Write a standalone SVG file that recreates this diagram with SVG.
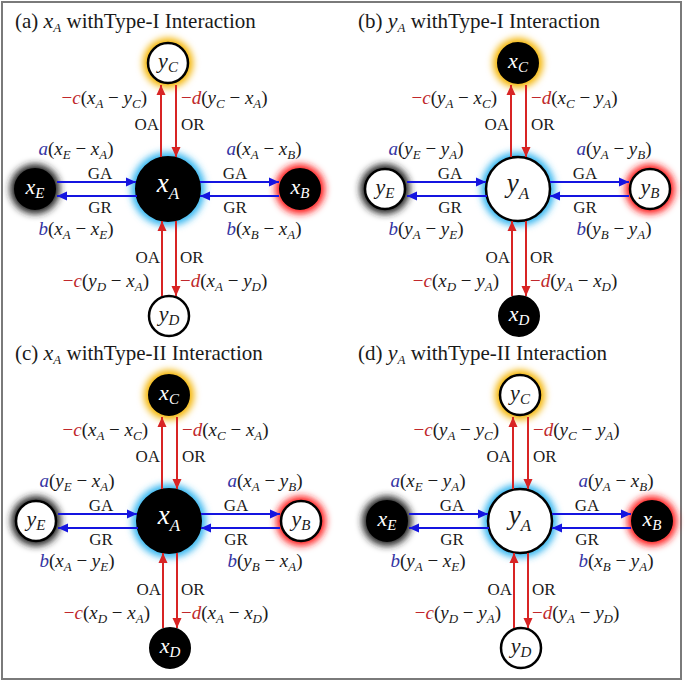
<svg xmlns="http://www.w3.org/2000/svg" width="685" height="682" viewBox="0 0 685 682">
<style>
text{font-family:"Liberation Serif","Times New Roman",serif;fill:#1a1a1a}
.ti{font-size:21px}
.lb{font-size:17px}
.m{font-size:19px}
.i{font-style:italic}
.sb{font-style:italic;font-size:13px}
.r{fill:#c0282c}
.bl{fill:#3434a4}
.ra{stroke:#d82424;stroke-width:2;fill:none}
.ba{stroke:#1414e0;stroke-width:2;fill:none}
.bn{fill:#000;stroke:#000;stroke-width:2}
.wn{fill:#fff;stroke:#000;stroke-width:2.5}
.nt{font-style:italic;font-size:22px;text-anchor:middle}
.ns{font-style:italic;font-size:15px}
.ct{font-style:italic;font-size:27px;text-anchor:middle}
.cs{font-style:italic;font-size:17px}
.wt{fill:#fff}
.go{fill:#f4b400}
.gc{fill:#33b5f0}
.gg{fill:#222}
.gr{fill:#ff1c1c}
</style>
<defs>
<filter id="gf" x="-1" y="-1" width="3" height="3"><feGaussianBlur stdDeviation="3.5"/></filter>
<marker id="mr" markerUnits="userSpaceOnUse" markerWidth="10" markerHeight="9" refX="10" refY="4.5" orient="auto" overflow="visible"><path d="M0,0 L10,4.5 L0,9 z" fill="#d82424"/></marker>
<marker id="mb" markerUnits="userSpaceOnUse" markerWidth="10" markerHeight="9" refX="10" refY="4.5" orient="auto" overflow="visible"><path d="M0,0 L10,4.5 L0,9 z" fill="#1414e0"/></marker>
<g id="arrows">
<line class="ra" x1="161" y1="157" x2="161" y2="85" marker-end="url(#mr)"/>
<line class="ra" x1="176" y1="85" x2="176" y2="157" marker-end="url(#mr)"/>
<line class="ra" x1="162" y1="296" x2="162" y2="221" marker-end="url(#mr)"/>
<line class="ra" x1="176" y1="221" x2="176" y2="296" marker-end="url(#mr)"/>
<line class="ba" x1="57" y1="182" x2="136" y2="182" marker-end="url(#mb)"/>
<line class="ba" x1="137" y1="196" x2="57" y2="196" marker-end="url(#mb)"/>
<line class="ba" x1="200" y1="182" x2="279" y2="182" marker-end="url(#mb)"/>
<line class="ba" x1="279" y1="196" x2="200" y2="196" marker-end="url(#mb)"/>
</g>
</defs>
<rect x="2" y="2" width="679" height="677" fill="#fff" stroke="#7a7a7a" stroke-width="2"/>

<!-- Titles -->
<text class="ti" x="15" y="28">(a) <tspan class="i" font-size="22px">x</tspan><tspan class="sb" font-size="14px" dy="4">A</tspan><tspan dy="-4"> withType-I Interaction</tspan></text>
<text class="ti" x="358" y="28">(b) <tspan class="i" font-size="22px">y</tspan><tspan class="sb" font-size="14px" dy="4">A</tspan><tspan dy="-4"> withType-I Interaction</tspan></text>
<text class="ti" x="15" y="360">(c) <tspan class="i" font-size="22px">x</tspan><tspan class="sb" font-size="14px" dy="4">A</tspan><tspan dy="-4"> withType-II Interaction</tspan></text>
<text class="ti" x="358" y="360">(d) <tspan class="i" font-size="22px">y</tspan><tspan class="sb" font-size="14px" dy="4">A</tspan><tspan dy="-4"> withType-II Interaction</tspan></text>

<!-- Panel a -->
<g id="panel-a">
<g id="a-yC"><circle class="go" cx="168" cy="63" r="25" filter="url(#gf)"/><circle class="wn" cx="168" cy="63" r="20"/><text class="nt" x="168" y="68">y<tspan class="ns" dy="4">C</tspan></text></g>
<g id="a-xA"><circle class="gc" cx="168" cy="189" r="37" filter="url(#gf)"/><circle class="bn" cx="168" cy="189" r="32"/><text class="ct wt" x="168" y="192">x<tspan class="cs" dy="7">A</tspan></text></g>
<g id="a-xE"><circle class="gg" cx="35" cy="189" r="25" filter="url(#gf)"/><circle class="bn" cx="35" cy="189" r="20"/><text class="nt wt" x="35" y="194">x<tspan class="ns" dy="4">E</tspan></text></g>
<g id="a-xB"><circle class="gr" cx="300" cy="189" r="25" filter="url(#gf)"/><circle class="bn" cx="300" cy="189" r="20"/><text class="nt wt" x="300" y="194">x<tspan class="ns" dy="4">B</tspan></text></g>
<g id="a-yD"><circle class="wn" cx="169" cy="316" r="20"/><text class="nt" x="169" y="321">y<tspan class="ns" dy="4">D</tspan></text></g>
<g id="a-labels">
<text class="m" x="147" y="104" text-anchor="end"><tspan class="r">−<tspan class="i">c</tspan></tspan>(<tspan class="i">x</tspan><tspan class="sb" dy="4">A</tspan><tspan dy="-4"> − </tspan><tspan class="i">y</tspan><tspan class="sb" dy="4">C</tspan><tspan dy="-4">)</tspan></text>
<text class="m" x="181" y="104"><tspan class="r">−<tspan class="i">d</tspan></tspan>(<tspan class="i">y</tspan><tspan class="sb" dy="4">C</tspan><tspan dy="-4"> − </tspan><tspan class="i">x</tspan><tspan class="sb" dy="4">A</tspan><tspan dy="-4">)</tspan></text>
<text class="lb" x="159" y="130" text-anchor="end">OA</text>
<text class="lb" x="181" y="130">OR</text>
<text class="m" x="76" y="155" text-anchor="middle"><tspan class="bl i">a</tspan>(<tspan class="i">x</tspan><tspan class="sb" dy="4">E</tspan><tspan dy="-4"> − </tspan><tspan class="i">x</tspan><tspan class="sb" dy="4">A</tspan><tspan dy="-4">)</tspan></text>
<text class="lb" x="100" y="179" text-anchor="middle">GA</text>
<text class="lb" x="100" y="213" text-anchor="middle">GR</text>
<text class="m" x="76" y="235" text-anchor="middle"><tspan class="bl i">b</tspan>(<tspan class="i">x</tspan><tspan class="sb" dy="4">A</tspan><tspan dy="-4"> − </tspan><tspan class="i">x</tspan><tspan class="sb" dy="4">E</tspan><tspan dy="-4">)</tspan></text>
<text class="m" x="264" y="155" text-anchor="middle"><tspan class="bl i">a</tspan>(<tspan class="i">x</tspan><tspan class="sb" dy="4">A</tspan><tspan dy="-4"> − </tspan><tspan class="i">x</tspan><tspan class="sb" dy="4">B</tspan><tspan dy="-4">)</tspan></text>
<text class="lb" x="235" y="179" text-anchor="middle">GA</text>
<text class="lb" x="235" y="213" text-anchor="middle">GR</text>
<text class="m" x="264" y="235" text-anchor="middle"><tspan class="bl i">b</tspan>(<tspan class="i">x</tspan><tspan class="sb" dy="4">B</tspan><tspan dy="-4"> − </tspan><tspan class="i">x</tspan><tspan class="sb" dy="4">A</tspan><tspan dy="-4">)</tspan></text>
<text class="lb" x="160" y="263" text-anchor="end">OA</text>
<text class="lb" x="180" y="263">OR</text>
<text class="m" x="149" y="287" text-anchor="end"><tspan class="r">−<tspan class="i">c</tspan></tspan>(<tspan class="i">y</tspan><tspan class="sb" dy="4">D</tspan><tspan dy="-4"> − </tspan><tspan class="i">x</tspan><tspan class="sb" dy="4">A</tspan><tspan dy="-4">)</tspan></text>
<text class="m" x="180" y="287"><tspan class="r">−<tspan class="i">d</tspan></tspan>(<tspan class="i">x</tspan><tspan class="sb" dy="4">A</tspan><tspan dy="-4"> − </tspan><tspan class="i">y</tspan><tspan class="sb" dy="4">D</tspan><tspan dy="-4">)</tspan></text>
</g>
</g>

<!-- Panel b -->
<g id="panel-b" transform="translate(350,0)">
<g id="b-xC"><circle class="go" cx="168" cy="63" r="25" filter="url(#gf)"/><circle class="bn" cx="168" cy="63" r="20"/><text class="nt wt" x="168" y="68">x<tspan class="ns" dy="4">C</tspan></text></g>
<g id="b-yA"><circle class="gc" cx="168" cy="189" r="37" filter="url(#gf)"/><circle class="wn" cx="168" cy="189" r="32"/><text class="ct" x="168" y="192">y<tspan class="cs" dy="7">A</tspan></text></g>
<g id="b-yE"><circle class="gg" cx="35" cy="189" r="25" filter="url(#gf)"/><circle class="wn" cx="35" cy="189" r="20"/><text class="nt" x="35" y="194">y<tspan class="ns" dy="4">E</tspan></text></g>
<g id="b-yB"><circle class="gr" cx="300" cy="189" r="25" filter="url(#gf)"/><circle class="wn" cx="300" cy="189" r="20"/><text class="nt" x="300" y="194">y<tspan class="ns" dy="4">B</tspan></text></g>
<g id="b-xD"><circle class="bn" cx="169" cy="316" r="20"/><text class="nt wt" x="169" y="321">x<tspan class="ns" dy="4">D</tspan></text></g>
<g id="b-labels">
<text class="m" x="147" y="104" text-anchor="end"><tspan class="r">−<tspan class="i">c</tspan></tspan>(<tspan class="i">y</tspan><tspan class="sb" dy="4">A</tspan><tspan dy="-4"> − </tspan><tspan class="i">x</tspan><tspan class="sb" dy="4">C</tspan><tspan dy="-4">)</tspan></text>
<text class="m" x="181" y="104"><tspan class="r">−<tspan class="i">d</tspan></tspan>(<tspan class="i">x</tspan><tspan class="sb" dy="4">C</tspan><tspan dy="-4"> − </tspan><tspan class="i">y</tspan><tspan class="sb" dy="4">A</tspan><tspan dy="-4">)</tspan></text>
<text class="lb" x="159" y="130" text-anchor="end">OA</text>
<text class="lb" x="181" y="130">OR</text>
<text class="m" x="76" y="155" text-anchor="middle"><tspan class="bl i">a</tspan>(<tspan class="i">y</tspan><tspan class="sb" dy="4">E</tspan><tspan dy="-4"> − </tspan><tspan class="i">y</tspan><tspan class="sb" dy="4">A</tspan><tspan dy="-4">)</tspan></text>
<text class="lb" x="100" y="179" text-anchor="middle">GA</text>
<text class="lb" x="100" y="213" text-anchor="middle">GR</text>
<text class="m" x="76" y="235" text-anchor="middle"><tspan class="bl i">b</tspan>(<tspan class="i">y</tspan><tspan class="sb" dy="4">A</tspan><tspan dy="-4"> − </tspan><tspan class="i">y</tspan><tspan class="sb" dy="4">E</tspan><tspan dy="-4">)</tspan></text>
<text class="m" x="264" y="155" text-anchor="middle"><tspan class="bl i">a</tspan>(<tspan class="i">y</tspan><tspan class="sb" dy="4">A</tspan><tspan dy="-4"> − </tspan><tspan class="i">y</tspan><tspan class="sb" dy="4">B</tspan><tspan dy="-4">)</tspan></text>
<text class="lb" x="235" y="179" text-anchor="middle">GA</text>
<text class="lb" x="235" y="213" text-anchor="middle">GR</text>
<text class="m" x="264" y="235" text-anchor="middle"><tspan class="bl i">b</tspan>(<tspan class="i">y</tspan><tspan class="sb" dy="4">B</tspan><tspan dy="-4"> − </tspan><tspan class="i">y</tspan><tspan class="sb" dy="4">A</tspan><tspan dy="-4">)</tspan></text>
<text class="lb" x="160" y="263" text-anchor="end">OA</text>
<text class="lb" x="180" y="263">OR</text>
<text class="m" x="149" y="287" text-anchor="end"><tspan class="r">−<tspan class="i">c</tspan></tspan>(<tspan class="i">x</tspan><tspan class="sb" dy="4">D</tspan><tspan dy="-4"> − </tspan><tspan class="i">y</tspan><tspan class="sb" dy="4">A</tspan><tspan dy="-4">)</tspan></text>
<text class="m" x="180" y="287"><tspan class="r">−<tspan class="i">d</tspan></tspan>(<tspan class="i">y</tspan><tspan class="sb" dy="4">A</tspan><tspan dy="-4"> − </tspan><tspan class="i">x</tspan><tspan class="sb" dy="4">D</tspan><tspan dy="-4">)</tspan></text>
</g>
</g>

<!-- Panel c -->
<g id="panel-c" transform="translate(1,332)">
<g id="c-xC"><circle class="go" cx="168" cy="63" r="25" filter="url(#gf)"/><circle class="bn" cx="168" cy="63" r="20"/><text class="nt wt" x="168" y="68">x<tspan class="ns" dy="4">C</tspan></text></g>
<g id="c-xA"><circle class="gc" cx="168" cy="189" r="37" filter="url(#gf)"/><circle class="bn" cx="168" cy="189" r="32"/><text class="ct wt" x="168" y="192">x<tspan class="cs" dy="7">A</tspan></text></g>
<g id="c-yE"><circle class="gg" cx="35" cy="189" r="25" filter="url(#gf)"/><circle class="wn" cx="35" cy="189" r="20"/><text class="nt" x="35" y="194">y<tspan class="ns" dy="4">E</tspan></text></g>
<g id="c-yB"><circle class="gr" cx="300" cy="189" r="25" filter="url(#gf)"/><circle class="wn" cx="300" cy="189" r="20"/><text class="nt" x="300" y="194">y<tspan class="ns" dy="4">B</tspan></text></g>
<g id="c-xD"><circle class="bn" cx="169" cy="316" r="20"/><text class="nt wt" x="169" y="321">x<tspan class="ns" dy="4">D</tspan></text></g>
<g id="c-labels">
<text class="m" x="147" y="104" text-anchor="end"><tspan class="r">−<tspan class="i">c</tspan></tspan>(<tspan class="i">x</tspan><tspan class="sb" dy="4">A</tspan><tspan dy="-4"> − </tspan><tspan class="i">x</tspan><tspan class="sb" dy="4">C</tspan><tspan dy="-4">)</tspan></text>
<text class="m" x="181" y="104"><tspan class="r">−<tspan class="i">d</tspan></tspan>(<tspan class="i">x</tspan><tspan class="sb" dy="4">C</tspan><tspan dy="-4"> − </tspan><tspan class="i">x</tspan><tspan class="sb" dy="4">A</tspan><tspan dy="-4">)</tspan></text>
<text class="lb" x="159" y="130" text-anchor="end">OA</text>
<text class="lb" x="181" y="130">OR</text>
<text class="m" x="76" y="155" text-anchor="middle"><tspan class="bl i">a</tspan>(<tspan class="i">y</tspan><tspan class="sb" dy="4">E</tspan><tspan dy="-4"> − </tspan><tspan class="i">x</tspan><tspan class="sb" dy="4">A</tspan><tspan dy="-4">)</tspan></text>
<text class="lb" x="100" y="179" text-anchor="middle">GA</text>
<text class="lb" x="100" y="213" text-anchor="middle">GR</text>
<text class="m" x="76" y="235" text-anchor="middle"><tspan class="bl i">b</tspan>(<tspan class="i">x</tspan><tspan class="sb" dy="4">A</tspan><tspan dy="-4"> − </tspan><tspan class="i">y</tspan><tspan class="sb" dy="4">E</tspan><tspan dy="-4">)</tspan></text>
<text class="m" x="264" y="155" text-anchor="middle"><tspan class="bl i">a</tspan>(<tspan class="i">x</tspan><tspan class="sb" dy="4">A</tspan><tspan dy="-4"> − </tspan><tspan class="i">y</tspan><tspan class="sb" dy="4">B</tspan><tspan dy="-4">)</tspan></text>
<text class="lb" x="235" y="179" text-anchor="middle">GA</text>
<text class="lb" x="235" y="213" text-anchor="middle">GR</text>
<text class="m" x="264" y="235" text-anchor="middle"><tspan class="bl i">b</tspan>(<tspan class="i">y</tspan><tspan class="sb" dy="4">B</tspan><tspan dy="-4"> − </tspan><tspan class="i">x</tspan><tspan class="sb" dy="4">A</tspan><tspan dy="-4">)</tspan></text>
<text class="lb" x="160" y="263" text-anchor="end">OA</text>
<text class="lb" x="180" y="263">OR</text>
<text class="m" x="149" y="287" text-anchor="end"><tspan class="r">−<tspan class="i">c</tspan></tspan>(<tspan class="i">x</tspan><tspan class="sb" dy="4">D</tspan><tspan dy="-4"> − </tspan><tspan class="i">x</tspan><tspan class="sb" dy="4">A</tspan><tspan dy="-4">)</tspan></text>
<text class="m" x="180" y="287"><tspan class="r">−<tspan class="i">d</tspan></tspan>(<tspan class="i">x</tspan><tspan class="sb" dy="4">A</tspan><tspan dy="-4"> − </tspan><tspan class="i">x</tspan><tspan class="sb" dy="4">D</tspan><tspan dy="-4">)</tspan></text>
</g>
</g>

<!-- Panel d -->
<g id="panel-d" transform="translate(352,332)">
<g id="d-yC"><circle class="go" cx="168" cy="63" r="25" filter="url(#gf)"/><circle class="wn" cx="168" cy="63" r="20"/><text class="nt" x="168" y="68">y<tspan class="ns" dy="4">C</tspan></text></g>
<g id="d-yA"><circle class="gc" cx="168" cy="189" r="37" filter="url(#gf)"/><circle class="wn" cx="168" cy="189" r="32"/><text class="ct" x="168" y="192">y<tspan class="cs" dy="7">A</tspan></text></g>
<g id="d-xE"><circle class="gg" cx="35" cy="189" r="25" filter="url(#gf)"/><circle class="bn" cx="35" cy="189" r="20"/><text class="nt wt" x="35" y="194">x<tspan class="ns" dy="4">E</tspan></text></g>
<g id="d-xB"><circle class="gr" cx="300" cy="189" r="25" filter="url(#gf)"/><circle class="bn" cx="300" cy="189" r="20"/><text class="nt wt" x="300" y="194">x<tspan class="ns" dy="4">B</tspan></text></g>
<g id="d-yD"><circle class="wn" cx="169" cy="316" r="20"/><text class="nt" x="169" y="321">y<tspan class="ns" dy="4">D</tspan></text></g>
<g id="d-labels">
<text class="m" x="147" y="104" text-anchor="end"><tspan class="r">−<tspan class="i">c</tspan></tspan>(<tspan class="i">y</tspan><tspan class="sb" dy="4">A</tspan><tspan dy="-4"> − </tspan><tspan class="i">y</tspan><tspan class="sb" dy="4">C</tspan><tspan dy="-4">)</tspan></text>
<text class="m" x="181" y="104"><tspan class="r">−<tspan class="i">d</tspan></tspan>(<tspan class="i">y</tspan><tspan class="sb" dy="4">C</tspan><tspan dy="-4"> − </tspan><tspan class="i">y</tspan><tspan class="sb" dy="4">A</tspan><tspan dy="-4">)</tspan></text>
<text class="lb" x="159" y="130" text-anchor="end">OA</text>
<text class="lb" x="181" y="130">OR</text>
<text class="m" x="76" y="155" text-anchor="middle"><tspan class="bl i">a</tspan>(<tspan class="i">x</tspan><tspan class="sb" dy="4">E</tspan><tspan dy="-4"> − </tspan><tspan class="i">y</tspan><tspan class="sb" dy="4">A</tspan><tspan dy="-4">)</tspan></text>
<text class="lb" x="100" y="179" text-anchor="middle">GA</text>
<text class="lb" x="100" y="213" text-anchor="middle">GR</text>
<text class="m" x="76" y="235" text-anchor="middle"><tspan class="bl i">b</tspan>(<tspan class="i">y</tspan><tspan class="sb" dy="4">A</tspan><tspan dy="-4"> − </tspan><tspan class="i">x</tspan><tspan class="sb" dy="4">E</tspan><tspan dy="-4">)</tspan></text>
<text class="m" x="264" y="155" text-anchor="middle"><tspan class="bl i">a</tspan>(<tspan class="i">y</tspan><tspan class="sb" dy="4">A</tspan><tspan dy="-4"> − </tspan><tspan class="i">x</tspan><tspan class="sb" dy="4">B</tspan><tspan dy="-4">)</tspan></text>
<text class="lb" x="235" y="179" text-anchor="middle">GA</text>
<text class="lb" x="235" y="213" text-anchor="middle">GR</text>
<text class="m" x="264" y="235" text-anchor="middle"><tspan class="bl i">b</tspan>(<tspan class="i">x</tspan><tspan class="sb" dy="4">B</tspan><tspan dy="-4"> − </tspan><tspan class="i">y</tspan><tspan class="sb" dy="4">A</tspan><tspan dy="-4">)</tspan></text>
<text class="lb" x="160" y="263" text-anchor="end">OA</text>
<text class="lb" x="180" y="263">OR</text>
<text class="m" x="149" y="287" text-anchor="end"><tspan class="r">−<tspan class="i">c</tspan></tspan>(<tspan class="i">y</tspan><tspan class="sb" dy="4">D</tspan><tspan dy="-4"> − </tspan><tspan class="i">y</tspan><tspan class="sb" dy="4">A</tspan><tspan dy="-4">)</tspan></text>
<text class="m" x="180" y="287"><tspan class="r">−<tspan class="i">d</tspan></tspan>(<tspan class="i">y</tspan><tspan class="sb" dy="4">A</tspan><tspan dy="-4"> − </tspan><tspan class="i">y</tspan><tspan class="sb" dy="4">D</tspan><tspan dy="-4">)</tspan></text>
</g>
</g>

<!-- Connectors -->
<g id="connectors">
<use href="#arrows"/>
<use href="#arrows" transform="translate(350,0)"/>
<use href="#arrows" transform="translate(1,332)"/>
<use href="#arrows" transform="translate(352,332)"/>
</g>
</svg>
